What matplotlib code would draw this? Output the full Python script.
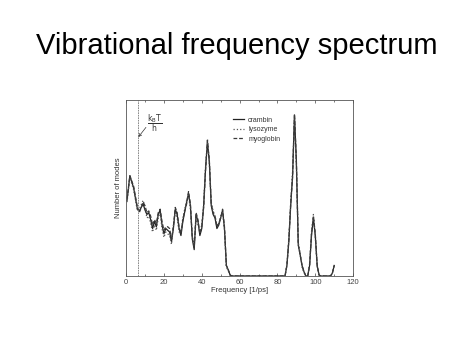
import numpy as np
import matplotlib
matplotlib.use("Agg")
import matplotlib.pyplot as plt
from matplotlib.ticker import MultipleLocator

plt.rcParams['font.family'] = ['Liberation Sans', 'DejaVu Sans']

# dane (jednostki umowne)
freq = [0.5, 2, 4, 6, 7, 9, 10, 11, 12, 13, 14, 15, 16, 17, 18, 19, 20, 21, 22, 23,
        24, 25, 26, 27, 28, 29, 30, 31, 32, 33, 34, 35, 36, 37, 38, 39, 40, 41, 42, 43,
        44, 45, 46, 47, 48, 49, 50, 51, 52, 53, 54, 55, 56, 70, 84, 85, 86, 87, 88, 89,
        90, 91, 92, 93, 94, 95, 96, 97, 98, 99, 100, 101, 102, 103, 108, 109, 110]
crambin = [43, 57, 50, 38, 37, 41, 37.5, 35, 36, 32, 27, 31, 28, 35, 37.5, 29, 24, 27, 26, 25,
           19.5, 27, 38, 35, 27, 23, 31, 36.5, 42, 47, 40, 21, 15, 35, 31, 23, 27, 40, 61, 76,
           65, 40, 35, 33, 27, 29, 33, 37.5, 27, 6, 3.5, 0.5, 0, 0, 0, 6, 19.5, 40, 57, 91.5,
           65, 17.6, 12, 6, 2.5, 0, 0, 6, 23, 33, 23, 6, 0.5, 0, 0, 1.5, 6]
lysozyme = [42, 56, 49, 37, 38, 43, 39, 33, 34, 30, 25, 29, 26, 33, 36, 27, 22, 25, 24, 23,
            18, 29, 36, 33, 25, 25, 33, 38, 43, 46, 38, 23, 17, 33, 29, 25, 29, 41, 62, 78,
            64, 42, 37, 34, 29, 30, 34, 36, 26, 5, 3, 0.5, 0, 0, 0, 7, 21, 42, 60, 90,
            63, 19, 13, 5, 2, 0, 0, 7, 25, 35, 22, 5, 0.5, 0, 0, 1.5, 6]
myoglobin = [44, 57, 51, 39, 36, 42, 40, 36, 37, 34, 29, 32, 30, 36, 38, 31, 26, 28, 28, 27,
             21, 28, 39, 36, 28, 24, 32, 37, 41, 48, 41, 22, 16, 36, 32, 24, 28, 39, 60, 77,
             66, 41, 36, 34, 28, 30, 33, 38, 28, 6, 3.5, 0.5, 0, 0, 0, 6, 20, 41, 56, 92,
             66, 18, 12, 6, 2.5, 0, 0, 6, 24, 34, 24, 6, 0.5, 0, 0, 1.5, 6]

kT_h = 6.5

fig = plt.figure(figsize=(4.74, 3.55), dpi=100)
fig.text(0.5, 0.87, 'Vibrational frequency spectrum', ha='center', va='center', fontsize=21)

ax = fig.add_axes([0.266, 0.2225, 0.479, 0.4955])
ax.plot(freq, crambin, color='#222222', lw=0.9, ls='-', label='crambin')
ax.plot(freq, lysozyme, color='#555555', lw=0.9, ls=':', label='lysozyme')
ax.plot(freq, myoglobin, color='#3a3a3a', lw=0.9, ls='--', dashes=(3, 1.5), label='myoglobin')
ax.axvline(kT_h, color='#777777', lw=0.6, ls='--', dashes=(2, 1))

ax.set_xlim(0, 120)
ax.set_ylim(0, 100)
ax.xaxis.set_major_locator(MultipleLocator(20))
ax.xaxis.set_minor_locator(MultipleLocator(10))
ax.set_yticks([])
ax.tick_params(axis='x', which='both', direction='in', top=True, labelsize=5.5,
               length=2.5, width=0.5, pad=2, colors='#444444')
ax.tick_params(axis='x', which='minor', length=1.5)
for s in ax.spines.values():
    s.set_linewidth(0.6)
    s.set_color('#555555')
ax.set_xlabel('Frequency [1/ps]', fontsize=5.5, labelpad=1, color='#333333')
ax.set_ylabel('Number of modes', fontsize=5.5, labelpad=3, color='#333333')

ax.legend(loc='upper left', bbox_to_anchor=(0.455, 0.925), frameon=False, fontsize=5,
          handlelength=1.6, handletextpad=0.6, labelspacing=0.35, borderpad=0,
          labelcolor='#333333')

ax.text(15, 87, r'$\dfrac{\mathrm{k_B T}}{\mathrm{h}}$', fontsize=5.5,
        ha='center', va='center', color='#333333')
ax.annotate('', xy=(kT_h, 79), xytext=(10.5, 84.5),
            arrowprops=dict(arrowstyle='->', lw=0.5, color='#333333',
                            shrinkA=0, shrinkB=0, mutation_scale=5))

fig.savefig('out.png', dpi=100, facecolor='white')
